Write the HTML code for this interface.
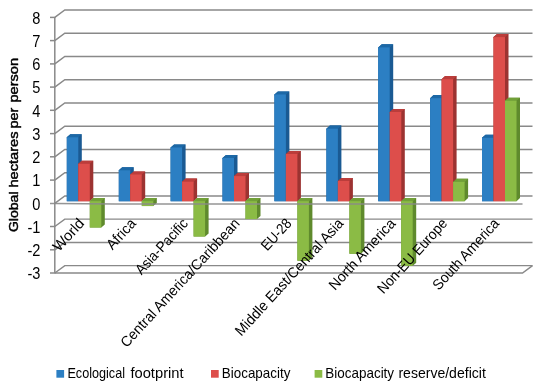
<!DOCTYPE html>
<html><head><meta charset="utf-8"><title>Chart</title><style>html,body{margin:0;padding:0;background:#fff}svg{display:block}</style></head><body>
<svg width="550" height="391" viewBox="0 0 550 391">
<rect width="550" height="391" fill="#fff"/>
<g fill="none" stroke="#898989" stroke-width="1.45">
<path d="M54.8 273.0L64.8 265.6H532.5"/>
<path d="M54.8 249.8L64.8 242.4H532.5"/>
<path d="M54.8 226.5L64.8 219.1H532.5"/>
<path d="M54.8 203.3L64.8 195.9H532.5"/>
<path d="M54.8 180.1L64.8 172.7H532.5"/>
<path d="M54.8 156.8L64.8 149.4H532.5"/>
<path d="M54.8 133.6L64.8 126.2H532.5"/>
<path d="M54.8 110.3L64.8 102.9H532.5"/>
<path d="M54.8 87.1L64.8 79.7H532.5"/>
<path d="M54.8 63.9L64.8 56.5H532.5"/>
<path d="M54.8 40.6L64.8 33.2H532.5"/>
<path d="M54.8 17.4L64.8 10.0H532.5"/>
</g>
<path d="M54.8 273.0H522.5L532.5 265.6" fill="none" stroke="#898989" stroke-width="1.45"/>
<path d="M66.8 137.3L70.3 134.2H81.8V198.1L78.3 201.2H66.8Z" fill="#1a5a93"/><path d="M66.8 138.3V137.3L70.3 134.2H81.8L78.3 137.3V138.3Z" fill="#1c68a6"/><rect x="66.8" y="137.3" width="11.5" height="63.9" fill="#2c7fc3"/>
<path d="M78.3 163.8L81.8 160.7H93.3V198.1L89.8 201.2H78.3Z" fill="#9c3331"/><path d="M78.3 164.8V163.8L81.8 160.7H93.3L89.8 163.8V164.8Z" fill="#bb3d3b"/><rect x="78.3" y="163.8" width="11.5" height="37.4" fill="#dd4e4b"/>
<path d="M89.8 201.2L93.3 198.1H104.8V224.4L101.3 227.5H89.8Z" fill="#5f8a2d"/><path d="M89.8 202.2V201.2L93.3 198.1H104.8L101.3 201.2V202.2Z" fill="#71a038"/><rect x="89.8" y="201.2" width="11.5" height="26.3" fill="#8bbb45"/>
<path d="M118.8 170.3L122.2 167.2H133.8V198.1L130.2 201.2H118.8Z" fill="#1a5a93"/><path d="M118.8 171.3V170.3L122.2 167.2H133.8L130.2 170.3V171.3Z" fill="#1c68a6"/><rect x="118.8" y="170.3" width="11.5" height="30.9" fill="#2c7fc3"/>
<path d="M130.2 174.5L133.8 171.4H145.2V198.1L141.8 201.2H130.2Z" fill="#9c3331"/><path d="M130.2 175.5V174.5L133.8 171.4H145.2L141.8 174.5V175.5Z" fill="#bb3d3b"/><rect x="130.2" y="174.5" width="11.5" height="26.7" fill="#dd4e4b"/>
<path d="M141.8 201.2L145.2 198.1H156.8V203.0L153.2 206.1H141.8Z" fill="#5f8a2d"/><path d="M141.8 202.2V201.2L145.2 198.1H156.8L153.2 201.2V202.2Z" fill="#71a038"/><rect x="141.8" y="201.2" width="11.5" height="4.9" fill="#8bbb45"/>
<path d="M170.6 147.5L174.1 144.4H185.6V198.1L182.1 201.2H170.6Z" fill="#1a5a93"/><path d="M170.6 148.5V147.5L174.1 144.4H185.6L182.1 147.5V148.5Z" fill="#1c68a6"/><rect x="170.6" y="147.5" width="11.5" height="53.7" fill="#2c7fc3"/>
<path d="M182.1 181.7L185.6 178.6H197.1V198.1L193.6 201.2H182.1Z" fill="#9c3331"/><path d="M182.1 182.7V181.7L185.6 178.6H197.1L193.6 181.7V182.7Z" fill="#bb3d3b"/><rect x="182.1" y="181.7" width="11.5" height="19.5" fill="#dd4e4b"/>
<path d="M193.6 201.2L197.1 198.1H208.6V233.4L205.1 236.5H193.6Z" fill="#5f8a2d"/><path d="M193.6 202.2V201.2L197.1 198.1H208.6L205.1 201.2V202.2Z" fill="#71a038"/><rect x="193.6" y="201.2" width="11.5" height="35.3" fill="#8bbb45"/>
<path d="M222.5 158.0L226.0 154.9H237.5V198.1L234.0 201.2H222.5Z" fill="#1a5a93"/><path d="M222.5 159.0V158.0L226.0 154.9H237.5L234.0 158.0V159.0Z" fill="#1c68a6"/><rect x="222.5" y="158.0" width="11.5" height="43.2" fill="#2c7fc3"/>
<path d="M234.0 176.1L237.5 173.0H249.0V198.1L245.5 201.2H234.0Z" fill="#9c3331"/><path d="M234.0 177.1V176.1L237.5 173.0H249.0L245.5 176.1V177.1Z" fill="#bb3d3b"/><rect x="234.0" y="176.1" width="11.5" height="25.1" fill="#dd4e4b"/>
<path d="M245.5 201.2L249.0 198.1H260.5V216.0L257.0 219.1H245.5Z" fill="#5f8a2d"/><path d="M245.5 202.2V201.2L249.0 198.1H260.5L257.0 201.2V202.2Z" fill="#71a038"/><rect x="245.5" y="201.2" width="11.5" height="17.9" fill="#8bbb45"/>
<path d="M274.4 94.5L277.9 91.4H289.4V198.1L285.9 201.2H274.4Z" fill="#1a5a93"/><path d="M274.4 95.5V94.5L277.9 91.4H289.4L285.9 94.5V95.5Z" fill="#1c68a6"/><rect x="274.4" y="94.5" width="11.5" height="106.7" fill="#2c7fc3"/>
<path d="M285.9 154.0L289.4 150.9H300.9V198.1L297.4 201.2H285.9Z" fill="#9c3331"/><path d="M285.9 155.0V154.0L289.4 150.9H300.9L297.4 154.0V155.0Z" fill="#bb3d3b"/><rect x="285.9" y="154.0" width="11.5" height="47.2" fill="#dd4e4b"/>
<path d="M297.4 201.2L300.9 198.1H312.4V257.6L308.9 260.7H297.4Z" fill="#5f8a2d"/><path d="M297.4 202.2V201.2L300.9 198.1H312.4L308.9 201.2V202.2Z" fill="#71a038"/><rect x="297.4" y="201.2" width="11.5" height="59.5" fill="#8bbb45"/>
<path d="M326.4 128.7L329.9 125.6H341.4V198.1L337.9 201.2H326.4Z" fill="#1a5a93"/><path d="M326.4 129.7V128.7L329.9 125.6H341.4L337.9 128.7V129.7Z" fill="#1c68a6"/><rect x="326.4" y="128.7" width="11.5" height="72.5" fill="#2c7fc3"/>
<path d="M337.9 181.0L341.4 177.9H352.9V198.1L349.4 201.2H337.9Z" fill="#9c3331"/><path d="M337.9 182.0V181.0L341.4 177.9H352.9L349.4 181.0V182.0Z" fill="#bb3d3b"/><rect x="337.9" y="181.0" width="11.5" height="20.2" fill="#dd4e4b"/>
<path d="M349.4 201.2L352.9 198.1H364.4V250.6L360.9 253.7H349.4Z" fill="#5f8a2d"/><path d="M349.4 202.2V201.2L352.9 198.1H364.4L360.9 201.2V202.2Z" fill="#71a038"/><rect x="349.4" y="201.2" width="11.5" height="52.5" fill="#8bbb45"/>
<path d="M378.2 47.4L381.8 44.3H393.2V198.1L389.8 201.2H378.2Z" fill="#1a5a93"/><path d="M378.2 48.4V47.4L381.8 44.3H393.2L389.8 47.4V48.4Z" fill="#1c68a6"/><rect x="378.2" y="47.4" width="11.5" height="153.8" fill="#2c7fc3"/>
<path d="M389.8 112.0L393.2 108.9H404.8V198.1L401.2 201.2H389.8Z" fill="#9c3331"/><path d="M389.8 113.0V112.0L393.2 108.9H404.8L401.2 112.0V113.0Z" fill="#bb3d3b"/><rect x="389.8" y="112.0" width="11.5" height="89.2" fill="#dd4e4b"/>
<path d="M401.2 201.2L404.8 198.1H416.2V262.7L412.8 265.8H401.2Z" fill="#5f8a2d"/><path d="M401.2 202.2V201.2L404.8 198.1H416.2L412.8 201.2V202.2Z" fill="#71a038"/><rect x="401.2" y="201.2" width="11.5" height="64.6" fill="#8bbb45"/>
<path d="M430.1 98.2L433.6 95.1H445.1V198.1L441.6 201.2H430.1Z" fill="#1a5a93"/><path d="M430.1 99.2V98.2L433.6 95.1H445.1L441.6 98.2V99.2Z" fill="#1c68a6"/><rect x="430.1" y="98.2" width="11.5" height="103.0" fill="#2c7fc3"/>
<path d="M441.6 79.2L445.1 76.1H456.6V198.1L453.1 201.2H441.6Z" fill="#9c3331"/><path d="M441.6 80.2V79.2L445.1 76.1H456.6L453.1 79.2V80.2Z" fill="#bb3d3b"/><rect x="441.6" y="79.2" width="11.5" height="122.0" fill="#dd4e4b"/>
<path d="M453.1 181.9L456.6 178.8H468.1V198.1L464.6 201.2H453.1Z" fill="#5f8a2d"/><path d="M453.1 182.9V181.9L456.6 178.8H468.1L464.6 181.9V182.9Z" fill="#71a038"/><rect x="453.1" y="181.9" width="11.5" height="19.3" fill="#8bbb45"/>
<path d="M482.0 137.8L485.5 134.7H497.0V198.1L493.5 201.2H482.0Z" fill="#1a5a93"/><path d="M482.0 138.8V137.8L485.5 134.7H497.0L493.5 137.8V138.8Z" fill="#1c68a6"/><rect x="482.0" y="137.8" width="11.5" height="63.4" fill="#2c7fc3"/>
<path d="M493.5 37.1L497.0 34.0H508.5V198.1L505.0 201.2H493.5Z" fill="#9c3331"/><path d="M493.5 38.1V37.1L497.0 34.0H508.5L505.0 37.1V38.1Z" fill="#bb3d3b"/><rect x="493.5" y="37.1" width="11.5" height="164.1" fill="#dd4e4b"/>
<path d="M505.0 100.8L508.5 97.7H520.0V198.1L516.5 201.2H505.0Z" fill="#5f8a2d"/><path d="M505.0 101.8V100.8L508.5 97.7H520.0L516.5 100.8V101.8Z" fill="#71a038"/><rect x="505.0" y="100.8" width="11.5" height="100.4" fill="#8bbb45"/>
<g fill="none" stroke="#898989" stroke-width="1.5">
<path d="M54.8 16.9V273.5"/>
<path d="M50.0 203.4H54.8L114.8 203.9H522.5" stroke-opacity="0.9"/>
<path d="M50.0 273.0H54.8"/>
<path d="M50.0 249.8H54.8"/>
<path d="M50.0 226.5H54.8"/>
<path d="M50.0 180.1H54.8"/>
<path d="M50.0 156.8H54.8"/>
<path d="M50.0 133.6H54.8"/>
<path d="M50.0 110.3H54.8"/>
<path d="M50.0 87.1H54.8"/>
<path d="M50.0 63.9H54.8"/>
<path d="M50.0 40.6H54.8"/>
<path d="M50.0 17.4H54.8"/>
</g>
<g font-family="'Liberation Sans', sans-serif" font-size="16.4" fill="#000" text-anchor="end">
<text transform="translate(40.4 279.3) scale(0.89 1)">-3</text>
<text transform="translate(40.4 256.1) scale(0.89 1)">-2</text>
<text transform="translate(40.4 232.8) scale(0.89 1)">-1</text>
<text transform="translate(40.4 209.6) scale(0.89 1)">0</text>
<text transform="translate(40.4 186.4) scale(0.89 1)">1</text>
<text transform="translate(40.4 163.1) scale(0.89 1)">2</text>
<text transform="translate(40.4 139.9) scale(0.89 1)">3</text>
<text transform="translate(40.4 116.6) scale(0.89 1)">4</text>
<text transform="translate(40.4 93.4) scale(0.89 1)">5</text>
<text transform="translate(40.4 70.2) scale(0.89 1)">6</text>
<text transform="translate(40.4 46.9) scale(0.89 1)">7</text>
<text transform="translate(40.4 23.7) scale(0.89 1)">8</text>
</g>
<text transform="translate(18.0 232.0) rotate(-90)" font-family="'Liberation Sans', sans-serif" font-weight="normal" stroke="#000" stroke-width="0.45" stroke-linejoin="round" font-size="13.5" lengthAdjust="spacingAndGlyphs"><tspan x="-0.1" textLength="40.6" lengthAdjust="spacingAndGlyphs">Global</tspan> <tspan x="44.4" textLength="56.2" lengthAdjust="spacingAndGlyphs">hectares</tspan> <tspan x="103.6" textLength="20.8" lengthAdjust="spacingAndGlyphs">per</tspan> <tspan x="129.5" textLength="44.6" lengthAdjust="spacingAndGlyphs">person</tspan></text>
<g font-family="'Liberation Sans', sans-serif" font-size="14.6" fill="#000" text-anchor="end">
<text transform="translate(85.0 224.0) rotate(-47.5)" textLength="38.4" lengthAdjust="spacingAndGlyphs">World</text>
<text transform="translate(136.8 224.0) rotate(-47.5)" textLength="36.1" lengthAdjust="spacingAndGlyphs">Africa</text>
<text transform="translate(188.8 224.0) rotate(-47.5)" textLength="70.0" lengthAdjust="spacingAndGlyphs">Asia-Pacific</text>
<text transform="translate(240.6 224.0) rotate(-47.5)" textLength="168.6" lengthAdjust="spacingAndGlyphs">Central America/Caribbean</text>
<text transform="translate(292.5 224.0) rotate(-47.5)" textLength="37.4" lengthAdjust="spacingAndGlyphs">EU-28</text>
<text transform="translate(344.4 224.0) rotate(-47.5)" textLength="152.8" lengthAdjust="spacingAndGlyphs">Middle East/Central Asia</text>
<text transform="translate(396.3 224.0) rotate(-47.5)" textLength="90.9" lengthAdjust="spacingAndGlyphs">North America</text>
<text transform="translate(448.2 224.0) rotate(-47.5)" textLength="95.7" lengthAdjust="spacingAndGlyphs">Non-EU Europe</text>
<text transform="translate(500.1 224.0) rotate(-47.5)" textLength="90.8" lengthAdjust="spacingAndGlyphs">South America</text>
</g>
<g font-family="'Liberation Sans', sans-serif" font-size="14.6" fill="#000">
<rect x="56.4" y="370" width="7.7" height="7.7" fill="#2c7fc3"/><text y="377.7"><tspan x="67.4" textLength="57.6" lengthAdjust="spacingAndGlyphs">Ecological</tspan> <tspan x="130.4" textLength="53.2" lengthAdjust="spacingAndGlyphs">footprint</tspan></text>
<rect x="211" y="370" width="7.7" height="7.7" fill="#dd4e4b"/><text x="221.8" y="377.7" textLength="68.6" lengthAdjust="spacingAndGlyphs">Biocapacity</text>
<rect x="314.6" y="370" width="7.7" height="7.7" fill="#8bbb45"/><text y="377.7"><tspan x="325.3" textLength="68.8" lengthAdjust="spacingAndGlyphs">Biocapacity</tspan> <tspan x="398.4" textLength="87.4" lengthAdjust="spacingAndGlyphs">reserve/deficit</tspan></text>
</g>
</svg>
</body></html>
